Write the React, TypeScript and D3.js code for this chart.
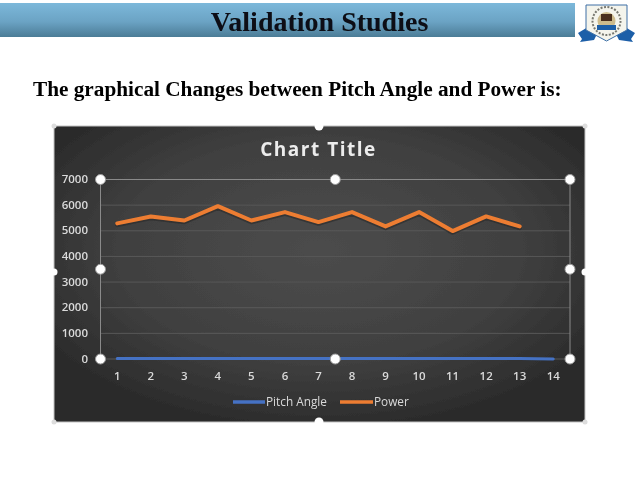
import * as d3 from "d3";

// ── Data ──────────────────────────────────────────────────────
const CATEGORIES = [1, 2, 3, 4, 5, 6, 7, 8, 9, 10, 11, 12, 13, 14];
const PITCH_ANGLE = [15, 15, 15, 15, 15, 15, 15, 15, 15, 15, 15, 15, 15, 0];
const POWER = [5290, 5560, 5400, 5960, 5400, 5730, 5340, 5730, 5170, 5730, 4990, 5560, 5170];
const Y_TICKS = [0, 1000, 2000, 3000, 4000, 5000, 6000, 7000];
const LEGEND = ["Pitch Angle", "Power"];

const W = 638;
const H = 478;
const SANS = "'Open Sans', 'Noto Sans', sans-serif";
const SERIF = "'Liberation Serif', serif";

// plot area handles sit on the corners of this box
const PLOT = { left: 100.5, right: 570, top: 179.5, bottom: 359 };
const BLUE = "#4472c4";
const ORANGE = "#ed7d31";
const LABEL = "#dadada";

const x = d3
  .scaleBand<number>()
  .domain(CATEGORIES)
  .range([PLOT.left, PLOT.right]);
const y = d3.scaleLinear().domain([0, 7000]).range([PLOT.bottom, PLOT.top]);
const cx = (c: number) => (x(c) as number) + x.bandwidth() / 2;

const line = d3
  .line<number>()
  .x((_d, i) => cx(CATEGORIES[i]))
  .y((d) => y(d));

// resize handles around the selected chart (no middle one)
const MID_X = (PLOT.left + PLOT.right) / 2;
const MID_Y = (PLOT.top + PLOT.bottom) / 2;
const HANDLES = [
  [PLOT.left, PLOT.top],
  [MID_X, PLOT.top],
  [PLOT.right, PLOT.top],
  [PLOT.left, MID_Y],
  [PLOT.right, MID_Y],
  [PLOT.left, PLOT.bottom],
  [MID_X, PLOT.bottom],
  [PLOT.right, PLOT.bottom],
];

function Logo() {
  return (
    <g filter="url(#soft)">
      <path d="M588 27 L578 33 L582 39 L580 42 L594 40 L597 34Z" fill="#1f5fa8" />
      <path d="M625 27 L635 33 L631 39 L633 42 L619 40 L616 34Z" fill="#1f5fa8" />
      <path d="M586 5 H627 V30 L606.5 41 L586 30Z" fill="#f4f4ec" stroke="#3c6ea5" strokeWidth={1} />
      <circle cx={606.5} cy={21} r={14} fill="none" stroke="#77776f" strokeWidth={2} strokeDasharray="2 1.5" />
      <circle cx={606.5} cy={21} r={9} fill="#cdbb8c" />
      <rect x={601} y={14} width={11} height={7} fill="#4a2f1c" />
      <rect x={597} y={25} width={19} height={5} fill="#1f5fa8" />
    </g>
  );
}

// ── Root component ────────────────────────────────────────────
export default function App() {
  return (
    <svg
      width={W}
      height={H}
      viewBox={`0 0 ${W} ${H}`}
      style={{ position: "absolute", left: 0, top: 0, background: "#fff" }}
    >
      <defs>
        <linearGradient id="band" x1="0" x2="0" y1="0" y2="1">
          <stop offset="0" stopColor="#7cb8da" />
          <stop offset="0.55" stopColor="#6ba3c4" />
          <stop offset="1" stopColor="#4b7c96" />
        </linearGradient>
        <radialGradient id="panel" cx="0.5" cy="0.42" r="0.62">
          <stop offset="0" stopColor="#4c4c4c" />
          <stop offset="0.6" stopColor="#404040" />
          <stop offset="1" stopColor="#2a2a2a" />
        </radialGradient>
        <filter id="soft" x="-5%" y="-5%" width="110%" height="110%">
          <feGaussianBlur stdDeviation="0.6" />
        </filter>
        <filter id="textSoft" x="-5%" y="-20%" width="110%" height="140%">
          <feGaussianBlur stdDeviation="0.3" />
        </filter>
      </defs>

      {/* header */}
      <rect x={0} y={3} width={575} height={34} fill="url(#band)" />
      <text
        x={319.5}
        y={31}
        textAnchor="middle"
        fontFamily={SERIF}
        fontWeight="bold"
        fontSize={28}
        fill="#0a0f14"
        filter="url(#textSoft)"
      >
        Validation Studies
      </text>
      <Logo />
      <text
        x={33}
        y={95.5}
        fontFamily={SERIF}
        fontWeight="bold"
        fontSize={21.25}
        fill="#000"
        filter="url(#textSoft)"
      >
        The graphical Changes between Pitch Angle and Power is:
      </text>

      {/* chart panel */}
      <g filter="url(#soft)">
        <rect x={54} y={126} width={531} height={296} fill="url(#panel)" stroke="#c4c4c4" strokeWidth={1} />
        <text
          x={318.5}
          y={156}
          textAnchor="middle"
          fontFamily={SANS}
          fontWeight="bold"
          fontSize={19}
          letterSpacing={1.5}
          fill="#ececec"
        >
          Chart Title
        </text>

        {Y_TICKS.map((t) => (
          <g key={t}>
            <line
              x1={PLOT.left}
              x2={PLOT.right}
              y1={y(t)}
              y2={y(t)}
              stroke={t === 7000 ? "#8a8a8a" : "#585858"}
              strokeWidth={1}
            />
            <text
              x={88}
              y={y(t) + 3.5}
              textAnchor="end"
              fontFamily={SANS}
              fontWeight={600}
              fontSize={11.5}
              fill={LABEL}
            >
              {t}
            </text>
          </g>
        ))}

        <line x1={PLOT.left} x2={PLOT.left} y1={PLOT.top} y2={PLOT.bottom} stroke="#8a8a8a" />
        <line x1={PLOT.right} x2={PLOT.right} y1={PLOT.top} y2={PLOT.bottom} stroke="#8a8a8a" />

        {CATEGORIES.map((c) => (
          <text
            key={c}
            x={cx(c)}
            y={379.5}
            textAnchor="middle"
            fontFamily={SANS}
            fontWeight={600}
            fontSize={11.5}
            fill={LABEL}
          >
            {c}
          </text>
        ))}

        <path d={line(PITCH_ANGLE) ?? ""} fill="none" stroke={BLUE} strokeWidth={3} strokeLinecap="round" />
        <path
          d={line(POWER) ?? ""}
          fill="none"
          stroke="#262626"
          strokeOpacity={0.55}
          strokeWidth={4.5}
          strokeLinecap="round"
          strokeLinejoin="round"
          transform="translate(0,1.5)"
        />
        <path
          d={line(POWER) ?? ""}
          fill="none"
          stroke={ORANGE}
          strokeWidth={4}
          strokeLinecap="round"
          strokeLinejoin="round"
        />

        {/* legend */}
        <line x1={233} x2={265} y1={402} y2={402} stroke={BLUE} strokeWidth={3.5} />
        <text x={266} y={405.5} fontFamily={SANS} fontWeight={500} fontSize={11.8} fill={LABEL}>
          {LEGEND[0]}
        </text>
        <line x1={340} x2={373} y1={402} y2={402} stroke={ORANGE} strokeWidth={3.5} />
        <text x={374} y={405.5} fontFamily={SANS} fontWeight={500} fontSize={11.8} fill={LABEL}>
          {LEGEND[1]}
        </text>

        {HANDLES.map(([px, py]) => (
          <circle key={`${px}-${py}`} cx={px} cy={py} r={5} fill="#fff" stroke="#9a9a9a" strokeWidth={1} />
        ))}

        {/* outer chart handles, cut by the panel edge */}
        <circle cx={319} cy={126} r={4.5} fill="#fff" />
        <circle cx={319} cy={422} r={4.5} fill="#fff" />
        <circle cx={54} cy={272} r={3.5} fill="#fff" />
        <circle cx={585} cy={272} r={3.5} fill="#fff" />
        <circle cx={54} cy={126} r={2.5} fill="#ddd" />
        <circle cx={585} cy={126} r={2.5} fill="#ddd" />
        <circle cx={54} cy={422} r={2.5} fill="#ddd" />
        <circle cx={585} cy={422} r={2.5} fill="#ddd" />
      </g>
    </svg>
  );
}
